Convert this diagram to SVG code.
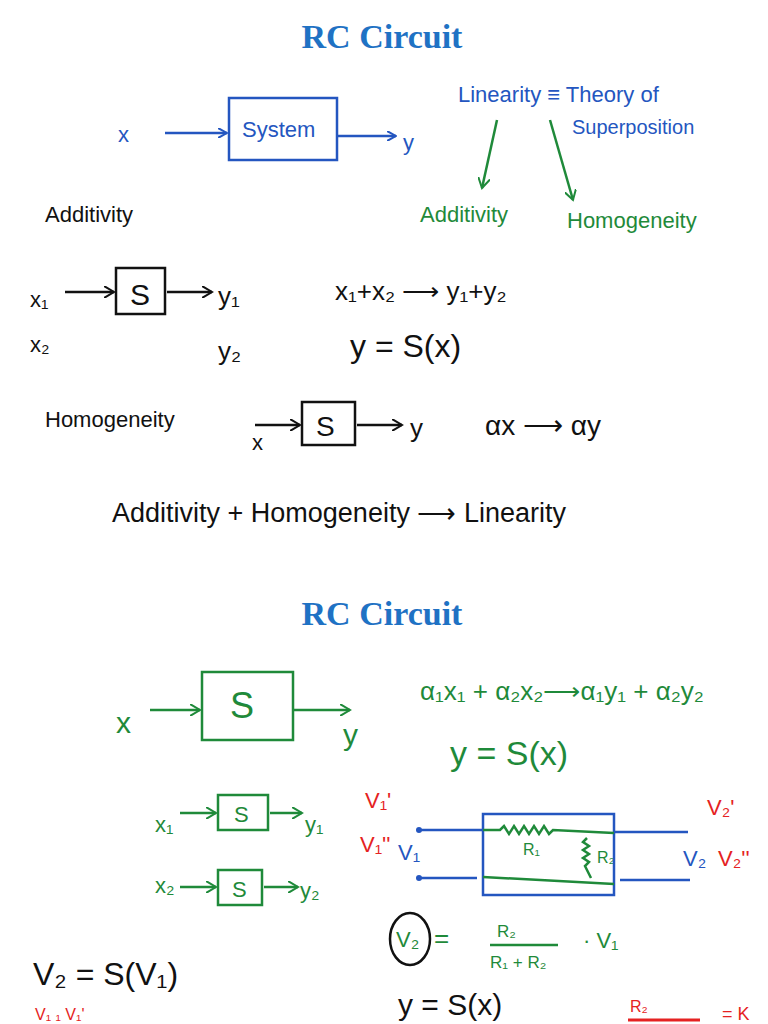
<svg xmlns="http://www.w3.org/2000/svg" width="768" height="1024" viewBox="0 0 768 1024">
<style>
.t{font-family:"Liberation Serif",serif;font-weight:bold;font-size:34px;fill:#1f72c4;text-anchor:middle}
.h{font-family:"Liberation Sans",sans-serif}
.b{fill:#2456c0}.g{fill:#1f8a3a}.k{fill:#111}.r{fill:#e52222}
.sb{stroke:#2456c0;fill:none;stroke-width:2.5}.sg{stroke:#1f8a3a;fill:none;stroke-width:2.5}.sk{stroke:#111;fill:none;stroke-width:2.5}
</style>
<defs>
<marker id="ab" markerWidth="10" markerHeight="10" refX="9" refY="5" orient="auto" markerUnits="userSpaceOnUse"><path d="M0,0 L9,5 L0,10" fill="none" stroke="#2456c0" stroke-width="2"/></marker>
<marker id="ag" markerWidth="12" markerHeight="12" refX="10" refY="6" orient="auto" markerUnits="userSpaceOnUse"><path d="M0,0 L10,6 L0,12" fill="none" stroke="#1f8a3a" stroke-width="2"/></marker>
<marker id="ak" markerWidth="12" markerHeight="12" refX="10" refY="6" orient="auto" markerUnits="userSpaceOnUse"><path d="M0,0 L10,6 L0,12" fill="none" stroke="#111" stroke-width="2"/></marker>
</defs>
<rect width="768" height="1024" fill="#fff"/>
<text class="t" x="382" y="48">RC Circuit</text>
<text class="t" x="382" y="625">RC Circuit</text>

<g class="h" font-size="22">
<text class="b" x="118" y="142">x</text>
<rect class="sb" x="229" y="98" width="108" height="62"/>
<text class="b" x="242" y="137">System</text>
<text class="b" x="403" y="150">y</text>
<text class="b" x="458" y="102">Linearity ≡ Theory of</text>
<text class="b" x="572" y="134" font-size="20">Superposition</text>
<text class="g" x="420" y="222">Additivity</text>
<text class="g" x="567" y="228">Homogeneity</text>

<text class="k" x="45" y="222">Additivity</text>
<text class="k" x="30" y="307">x₁</text>
<rect class="sk" x="116" y="268" width="49" height="46"/>
<text class="k" x="130" y="305" font-size="30">S</text>
<text class="k" x="218" y="305" font-size="26">y₁</text>
<text class="k" x="335" y="300" font-size="26">x₁+x₂ ⟶ y₁+y₂</text>
<text class="k" x="30" y="352">x₂</text>
<text class="k" x="218" y="360" font-size="26">y₂</text>
<text class="k" x="350" y="357" font-size="32">y = S(x)</text>

<text class="k" x="45" y="427">Homogeneity</text>
<text class="k" x="252" y="450">x</text>
<rect class="sk" x="302" y="402" width="53" height="43"/>
<text class="k" x="316" y="436" font-size="28">S</text>
<text class="k" x="410" y="437" font-size="26">y</text>
<text class="k" x="485" y="435" font-size="28">αx ⟶ αy</text>
<text class="k" x="112" y="522" font-size="27">Additivity + Homogeneity ⟶ Linearity</text>

<text class="g" x="116" y="733" font-size="30">x</text>
<rect class="sg" x="202" y="672" width="91" height="68"/>
<text class="g" x="230" y="718" font-size="36">S</text>
<text class="g" x="343" y="745" font-size="30">y</text>
<text class="g" x="420" y="700" font-size="26">α₁x₁ + α₂x₂⟶α₁y₁ + α₂y₂</text>
<text class="g" x="450" y="765" font-size="34">y = S(x)</text>

<text class="g" x="155" y="832">x₁</text>
<rect class="sg" x="218" y="795" width="50" height="35"/>
<text class="g" x="234" y="822">S</text>
<text class="g" x="305" y="832">y₁</text>
<text class="g" x="155" y="893">x₂</text>
<rect class="sg" x="218" y="870" width="44" height="35"/>
<text class="g" x="232" y="897">S</text>
<text class="g" x="300" y="898">y₂</text>

<text class="r" x="365" y="808">V₁'</text>
<text class="r" x="360" y="852">V₁''</text>
<text class="b" x="398" y="860">V₁</text>
<text class="g" x="523" y="855" font-size="16">R₁</text>
<text class="g" x="597" y="863" font-size="16">R₂</text>
<text class="b" x="683" y="866">V₂</text>
<text class="r" x="707" y="815">V₂'</text>
<text class="r" x="718" y="866">V₂''</text>

<text class="g" x="396" y="947">V₂</text>
<text class="g" x="434" y="947" font-size="26">=</text>
<text class="g" x="497" y="937" font-size="17">R₂</text>
<text class="g" x="490" y="968" font-size="17">R₁ + R₂</text>
<text class="g" x="583" y="948">· V₁</text>
<text class="k" x="33" y="985" font-size="32">V₂ = S(V₁)</text>
<text class="k" x="398" y="1015" font-size="30">y = S(x)</text>
<text class="r" x="630" y="1012" font-size="16">R₂</text>
<text class="r" x="722" y="1020" font-size="18">= K</text>
<text class="r" x="35" y="1020" font-size="16">V₁ ₁ V₁'</text>
</g>

<g id="connectors">
<path class="sb" d="M165,133 L227,133" marker-end="url(#ab)"/>
<path class="sb" d="M338,136 L396,136" marker-end="url(#ab)"/>
<path class="sg" d="M497,120 L482,188" marker-end="url(#ag)"/>
<path class="sg" d="M550,120 L573,200" marker-end="url(#ag)"/>
<path class="sk" d="M65,292 L114,292" marker-end="url(#ak)"/>
<path class="sk" d="M167,292 L212,292" marker-end="url(#ak)"/>
<path class="sk" d="M255,425 L300,425" marker-end="url(#ak)"/>
<path class="sk" d="M357,425 L402,425" marker-end="url(#ak)"/>
<path class="sg" d="M150,710 L200,710" marker-end="url(#ag)"/>
<path class="sg" d="M294,710 L350,710" marker-end="url(#ag)"/>
<path class="sg" d="M180,813 L216,813" marker-end="url(#ag)"/>
<path class="sg" d="M270,813 L302,813" marker-end="url(#ag)"/>
<path class="sg" d="M180,887 L216,887" marker-end="url(#ag)"/>
<path class="sg" d="M264,887 L298,887" marker-end="url(#ag)"/>
<rect class="sb" x="483" y="814" width="131" height="81"/>
<path class="sb" d="M419,830 L483,830 M614,832 L688,832 M419,878 L477,878 M620,880 L690,880"/>
<circle cx="419" cy="830" r="3" fill="#2456c0"/><circle cx="419" cy="878" r="3" fill="#2456c0"/>
<path class="sg" stroke-width="2" d="M483,830 L500,830 l4,-4 l5,8 l5,-8 l5,8 l5,-8 l5,8 l5,-8 l5,8 l5,-8 l5,8 l4,-4 L614,833 M483,877 L614,884 M587,838 l-4,4 l6,4 l-6,4 l6,4 l-6,4 l6,4 l-4,4 L591,878"/>
<ellipse cx="410" cy="939" rx="20" ry="26" class="sk"/>
<path class="sg" d="M490,945 L558,945"/>
<path stroke="#e52222" stroke-width="3" d="M628,1020 L700,1020"/>
</g>
</svg>
